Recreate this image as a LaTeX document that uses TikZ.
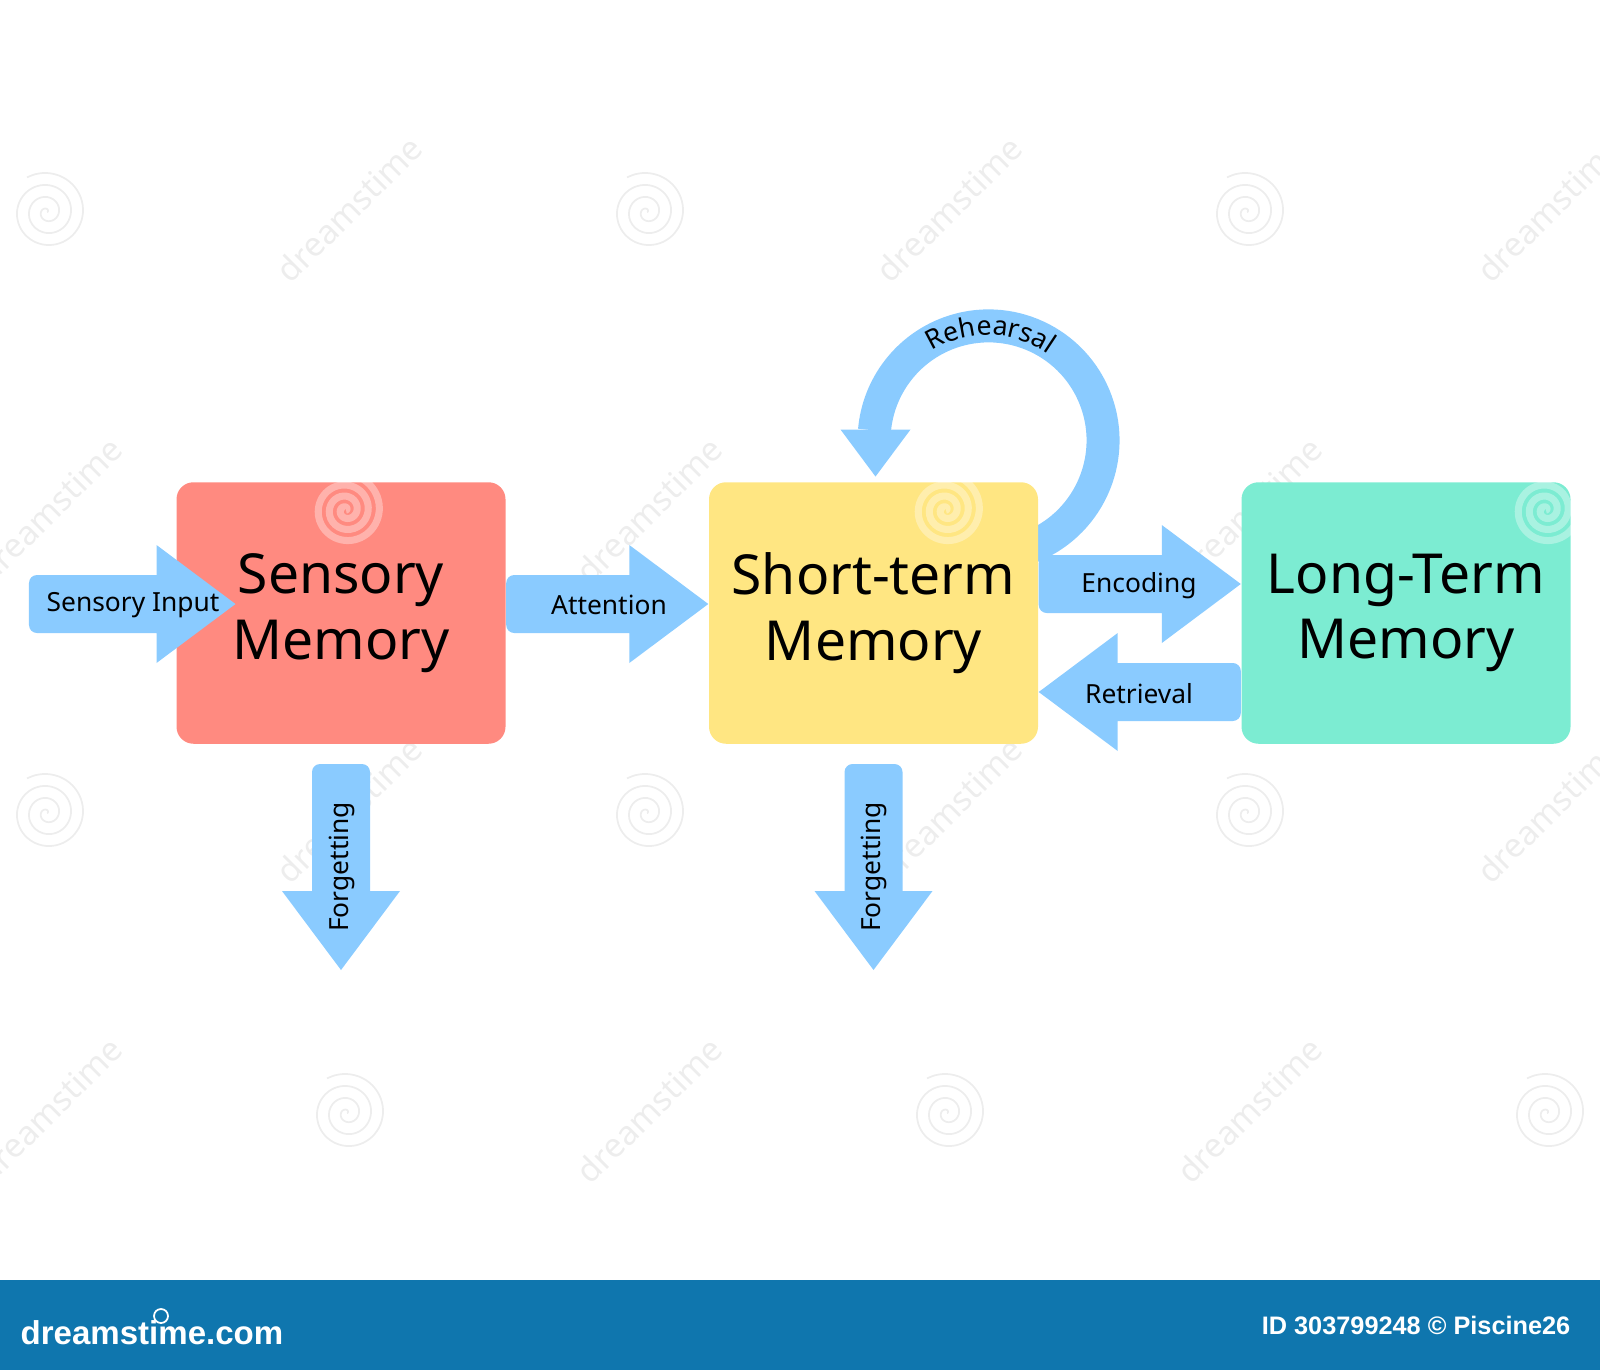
\documentclass[tikz,border=0pt]{standalone}
\usepackage{fontspec}
\setmainfont{Noto Sans}
\newfontfamily\barfont{Liberation Sans}
\usetikzlibrary{calc}
\usetikzlibrary{backgrounds}
\usetikzlibrary{decorations.text}

\definecolor{sensoryred}{HTML}{FF8A80}
\definecolor{shortyellow}{HTML}{FFE682}
\definecolor{longteal}{HTML}{7CECD2}
\definecolor{flowblue}{HTML}{8ACBFF}
\definecolor{barblue}{HTML}{0F76AE}

\tikzset{
    memorybox/.style={rounded corners=0.17cm,minimum width=3.29cm,minimum height=2.615cm,
        align=center,font=\fontsize{15.7}{18.6}\selectfont,text=black,inner sep=0pt},
    flowlabel/.style={font=\fontsize{7.5}{9}\selectfont,text=black,inner sep=0pt},
    flow/.style={fill=flowblue,to path={
        ($(\tikztotarget)!0.79cm!(\tikztostart)$)
        -- ($($(\tikztotarget)!0.79cm!(\tikztostart)$)!0.59cm!90:(\tikztotarget)$)
        -- (\tikztotarget)
        -- ($($(\tikztotarget)!0.79cm!(\tikztostart)$)!0.59cm!-90:(\tikztotarget)$)
        -- cycle
        [rounded corners=0.08cm]
        ($(\tikztostart)!0.29cm!90:(\tikztotarget)$)
        -- ($($(\tikztotarget)!0.69cm!(\tikztostart)$)!0.29cm!90:(\tikztotarget)$)
        -- ($($(\tikztotarget)!0.69cm!(\tikztostart)$)!0.29cm!-90:(\tikztotarget)$)
        -- ($(\tikztostart)!0.29cm!-90:(\tikztotarget)$)
        -- cycle}},
    swirl/.style={line width=0.5pt,draw=black!7},
    swirlbox/.style={line width=2pt,draw=white,opacity=0.35},
    markword/.style={rotate=45,text=black!7,font=\fontsize{9.5}{11}\selectfont,inner sep=0pt}
}

\begin{document}
\begin{tikzpicture}
                    \useasboundingbox (0,0) rectangle (16,13.7);

                    \node[memorybox,fill=sensoryred] (sensory) at (3.41,7.57) {Sensory\\Memory};
                    \node[memorybox,fill=shortyellow] (short) at (8.735,7.57) {Short-term\\Memory};
                    \node[memorybox,fill=longteal] (long) at (14.06,7.57) {Long-Term\\Memory};

                    \coordinate (inputstart) at (0.29,7.66);
                    \coordinate (inputend) at (2.355,7.66);
                    \coordinate (forgetonestart) at (3.41,6.06);
                    \coordinate (forgetoneend) at (3.41,4.00);
                    \coordinate (forgettwostart) at (8.735,6.06);
                    \coordinate (forgettwoend) at (8.735,4.00);
                    \coordinate (rehearsalstart) at ($(short.east)+(-0.11,0.65)$);
                    \coordinate (rehearsalend) at ($(short.north)+(0.02,0.05)$);
                    \coordinate (rehearsalhub) at (9.88,9.30);

                    \begin{scope}[on background layer]
                        \clip (0,0) rectangle (16,13.7);
                        \foreach \wx/\wy in {0.49/11.61,6.49/11.61,12.49/11.61,0.49/5.60,6.49/5.60,12.49/5.60,3.49/2.60,9.49/2.60,15.49/2.60}
                            \draw[swirl,shift={(\wx-0.02,\wy-0.03)}] plot[domain=0:1200,samples=100,smooth] ({\x}:{0.40*\x/1200});
                        \foreach \wx/\wy in {3.49/11.61,9.49/11.61,15.49/11.61,0.49/8.60,6.49/8.60,12.49/8.60,3.49/5.60,9.49/5.60,15.49/5.60,0.49/2.60,6.49/2.60,12.49/2.60}
                            \node[markword] at (\wx,\wy) {dreamstime};
                        \draw[line width=0.33cm,draw=flowblue] (rehearsalstart) arc[start angle=-70,end angle=175,radius=1.145];
                        \fill[flowblue] (rehearsalend) -- ++(-0.35,0.47) -- ++(0.70,0) -- cycle;
                    \end{scope}

                    \foreach \wx in {3.49,9.49,15.49}
                        \draw[swirlbox,shift={(\wx-0.03,8.60)}] plot[domain=0:1200,samples=100,smooth] ({\x}:{0.37*\x/1200});

                    \path[flow] (inputstart) to (inputend);
                    \path[flow] ($(sensory.east)+(0,0.09)$) to ($(short.west)+(0,0.09)$);
                    \path[flow] ($(short.east)+(0,0.29)$) to ($(long.west)+(0,0.29)$);
                    \path[flow] ($(long.west)+(0,-0.79)$) to ($(short.east)+(0,-0.79)$);
                    \path[flow] (forgetonestart) to (forgetoneend);
                    \path[flow] (forgettwostart) to (forgettwoend);

                    \node[flowlabel] (inputlabel) at (1.33,7.65) {Sensory Input};
                    \node[flowlabel] (attentionlabel) at (6.09,7.65) {Attention};
                    \node[flowlabel] (encodinglabel) at (11.39,7.84) {Encoding};
                    \node[flowlabel] (retrievallabel) at (11.39,6.76) {Retrieval};
                    \node[flowlabel,rotate=90] (forgetonelabel) at (3.42,5.03) {Forgetting};
                    \node[flowlabel,rotate=90] (forgettwolabel) at (8.74,5.03) {Forgetting};

                    \path[decorate,decoration={text along path,text align=center,
                        text={|\fontsize{7.6}{9}\selectfont|Rehearsal}}]
                        (rehearsalhub) ++(140:1.05) arc[start angle=140,end angle=37,radius=1.05];

                    \fill[barblue] (0,0) rectangle (16,0.90);
                    \node[anchor=west,text=white,inner sep=0pt,font=\barfont\bfseries\fontsize{9.4}{10}\selectfont] (site) at (0.20,0.37) {dreamstime.com};
                    \node[anchor=east,text=white,inner sep=0pt,font=\barfont\bfseries\fontsize{7.2}{8}\selectfont] (credit) at (15.71,0.45) {ID 303799248 © Piscine26};
                    \draw[white,line width=0.5pt] (1.61,0.54) circle (0.07);
\end{tikzpicture}
\end{document}
